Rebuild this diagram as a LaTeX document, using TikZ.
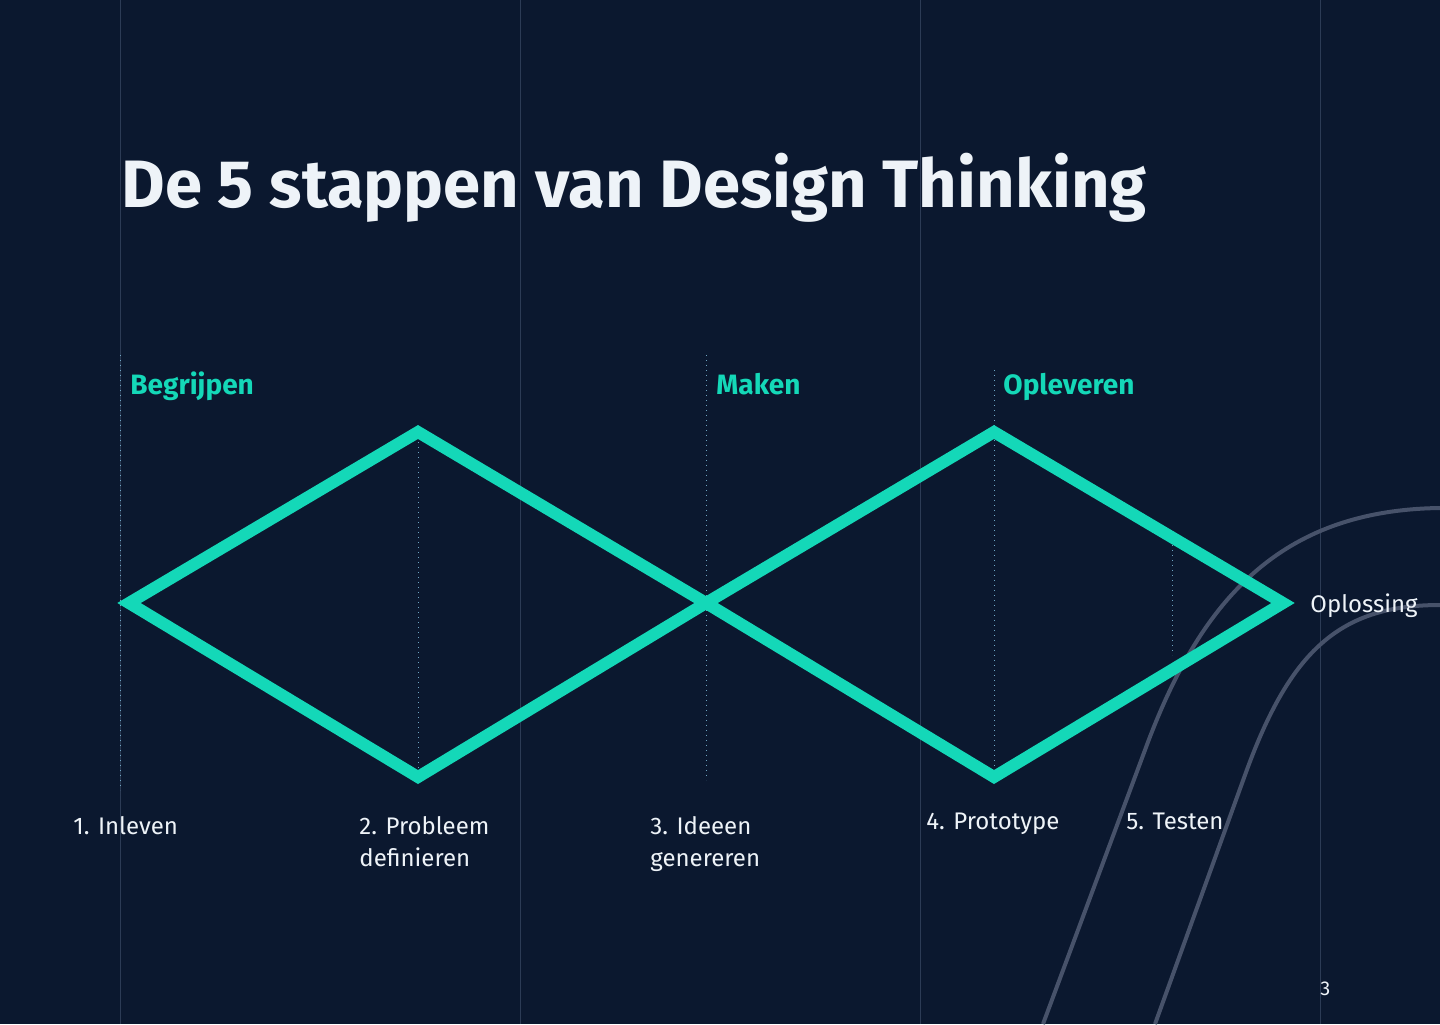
\documentclass[tikz,border=0pt]{standalone}
\usepackage{fontspec}
\setmainfont{Fira Sans}
\definecolor{navy}{HTML}{0B182F}
\definecolor{mint}{HTML}{14D8B8}
\definecolor{gridgray}{HTML}{2C3B55}
\definecolor{curvegray}{HTML}{47526A}
\definecolor{dotblue}{HTML}{6FA6C4}
\definecolor{offwhite}{HTML}{EEF3F8}
\begin{document}
\begin{tikzpicture}[x=0.5pt,y=-0.5pt,
    phase/.style={anchor=base west,inner sep=0,text=mint,font=\fontsize{14}{16}\selectfont\bfseries},
    stap/.style={anchor=base west,inner sep=0,text=offwhite,align=left,font=\fontsize{12}{16}\selectfont},
    guide/.style={dotblue,dotted,line width=0.5pt}]
                \useasboundingbox (0,0) rectangle (1440,1024);
                \fill[navy] (0,0) rectangle (1440,1024);
                \foreach \gx in {120,520,920,1320}
                    \draw[gridgray,line width=0.5pt] (\gx,0)--(\gx,1024);

                % achtergrondcurven
                \draw[curvegray,line width=2pt] (1043,1024)--(1145,750) .. controls (1200,600) and (1280,510) .. (1440,508);
                \draw[curvegray,line width=2pt] (1155,1024)--(1245,775) .. controls (1290,650) and (1340,605) .. (1440,605);

                \coordinate (links) at (129,603);
                \coordinate (top1) at (418,432);
                \coordinate (bodem1) at (418,777);
                \coordinate (midden) at (706,603);
                \coordinate (top2) at (994,432);
                \coordinate (bodem2) at (994,777);
                \coordinate (rechts) at (1283,603);

                \draw[guide] (120,355)--(120,790);
                \draw[guide] (top1)--(bodem1);
                \draw[guide] (706,355)--(706,780);
                \draw[guide] (994,370)--(bodem2);
                \draw[guide] (1172,540)--(1172,655);

                \draw[mint,line width=6pt,line join=miter] (links)--(top1)--(midden)--(bodem1)--cycle;
                \draw[mint,line width=6pt,line join=miter] (midden)--(top2)--(rechts)--(bodem2)--cycle;

                \node[anchor=base west,inner sep=0,text=offwhite,font=\fontsize{33.5}{38}\selectfont\bfseries] (titel) at (121,207) {De 5 stappen van Design Thinking};

                \node[phase] (begrijpen) at (130,394) {Begrijpen};
                \node[phase] (maken) at (716,394) {Maken};
                \node[phase] (opleveren) at (1003,394) {Opleveren};

                \node[stap] (inleven) at (73,834) {1. Inleven};
                \node[stap] (probleem) at (359,866) {2. Probleem\\definieren};
                \node[stap] (ideeen) at (650,866) {3. Ideeen\\genereren};
                \node[stap] (prototype) at (926,829) {4. Prototype};
                \node[stap] (testen) at (1126,829) {5. Testen};
                \node[stap] (oplossing) at (1310,612) {Oplossing};
                \node[stap,font=\fontsize{10}{12}\selectfont] (pagina) at (1320,995) {3};
            \end{tikzpicture}
\end{document}
